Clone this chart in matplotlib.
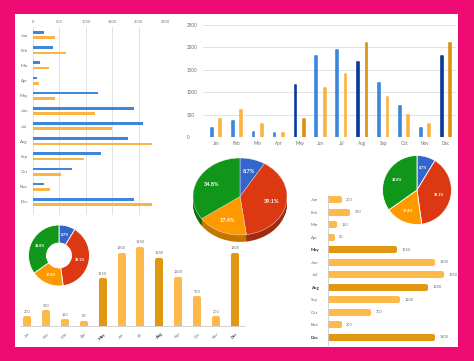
import numpy as np
import matplotlib.pyplot as plt
from matplotlib.patches import Rectangle

plt.rcParams['font.family'] = ['Lato', 'DejaVu Sans']

# data
months = ['Jan', 'Feb', 'Mar', 'Apr', 'May', 'Jun',
          'Jul', 'Aug', 'Sep', 'Oct', 'Nov', 'Dec']
highlight = ['May', 'Aug', 'Dec']
blue = [200, 350, 120, 80, 1150, 1800, 1950, 1680, 1200, 700, 200, 1800]
orange = [400, 600, 300, 100, 400, 1100, 1400, 2100, 900, 500, 300, 2100]
# the top-left chart
blue_h = [210, 370, 130, 80, 1230, 1920, 2080, 1790, 1280, 740, 210, 1920]
orange_h = [420, 630, 300, 120, 420, 1170, 1500, 2250, 960, 530, 320, 2250]
shares = [200, 900, 400, 800]

# colours
PINK = '#EE0C74'
BLUE, DBLUE = '#3C86DC', '#0C3C9A'
ORANGE, DORANGE = '#FBB443', '#DB9210'
LORANGE, DORANGE2 = '#FDBA4A', '#E09812'
PIE = ['#3366CC', '#DC3912', '#FF9900', '#109618']
PIE_DARK = ['#244A99', '#A22A0E', '#C47600', '#0B6E12']
GRID = '#DDDDDD'
TXT = '#6E6E6E'

W, H = 474, 361
fig = plt.figure(figsize=(W / 100, H / 100), dpi=100, facecolor=PINK)
fig.add_artist(Rectangle((15 / W, 1 - 347 / H), 443 / W, 333 / H,
                         transform=fig.transFigure, facecolor='white',
                         edgecolor='none', zorder=0))


def box(x0, y0, x1, y1):
    a = fig.add_axes([x0 / W, 1 - y1 / H, (x1 - x0) / W, (y1 - y0) / H])
    a.patch.set_alpha(0)
    return a


def clean(a):
    for s in a.spines.values():
        s.set_visible(False)


x = np.arange(12)
hl = [m in highlight for m in months]

# --- top left: horizontal grouped bars
ax = box(33, 27, 165, 215)
ax.barh(x - 0.175, blue_h, height=0.18, color=BLUE)
ax.barh(x + 0.175, orange_h, height=0.18, color=ORANGE)
ax.set_xlim(0, 2500)
ax.set_ylim(11.86, -0.53)
ax.set_xticks(range(0, 2501, 500))
ax.xaxis.tick_top()
ax.set_yticks(x, months)
ax.tick_params(axis='x', length=0, labelsize=2.8, colors=TXT, pad=2)
ax.tick_params(axis='y', length=0, labelsize=3.2, colors=TXT, pad=6.5)
for lbl in ax.get_yticklabels():
    lbl.set_ha('center')
ax.grid(axis='x', color=GRID, lw=0.6)
ax.set_axisbelow(True)
clean(ax)

# --- top right: vertical grouped bars
ax = box(203, 25, 456, 137)
bc = [DBLUE if h else BLUE for h in hl]
oc = [DORANGE if h else ORANGE for h in hl]
ax.bar(x - 0.2, blue, width=0.086, color=bc, edgecolor=bc, lw=1.2,
       joinstyle='round')
ax.bar(x + 0.2, orange, width=0.086, color=oc, edgecolor=oc, lw=1.2,
       joinstyle='round')
ax.set_xlim(-0.62, 11.48)
ax.set_ylim(0, 2500)
ax.set_yticks(range(0, 2501, 500))
ax.set_xticks(x, months)
ax.tick_params(axis='y', length=0, labelsize=3.3, colors=TXT, pad=11.5)
ax.tick_params(axis='x', length=0, labelsize=3.3, colors=TXT, pad=3)
for lbl in ax.get_yticklabels():
    lbl.set_ha('left')
ax.grid(axis='y', color=GRID, lw=0.6)
ax.set_axisbelow(True)
clean(ax)

# --- bottom: vertical bars with labels
ax = box(20, 231, 245, 326)
cc = [DORANGE2 if h else LORANGE for h in hl]
ax.bar(x, blue, width=0.21, color=cc, edgecolor=cc, lw=2.9,
       joinstyle='round')
for i, v in enumerate(blue):
    ax.text(i, v + 110, str(v), ha='center', va='bottom',
            fontsize=2.8, color=TXT)
ax.set_xlim(-0.37, 11.53)
ax.set_ylim(0, 2400)
ax.set_yticks([])
ax.set_xticks(x, months)
ax.tick_params(axis='x', length=0, labelsize=3, colors=TXT, pad=4.3)
for lbl, h in zip(ax.get_xticklabels(), hl):
    lbl.set_rotation(45)
    lbl.set_ha('center')
    lbl.set_va('top')
    if h:
        lbl.set_fontweight('bold')
        lbl.set_color('#333333')
clean(ax)
ax.spines['bottom'].set_visible(True)
ax.spines['bottom'].set_color('#CCCCCC')
ax.spines['bottom'].set_linewidth(0.6)

# --- bottom right: horizontal bars with labels
ax = box(328, 195, 455, 345)
ax.barh(x, blue, height=0.24, color=cc, edgecolor=cc, lw=2.9,
        joinstyle='round')
for i, v in enumerate(blue):
    ax.text(v + 110, i, str(v), ha='left', va='center',
            fontsize=2.8, color=TXT)
ax.set_xlim(0, 2171)
ax.set_ylim(11.64, -0.4)
ax.set_xticks([])
ax.set_yticks(x, months)
ax.tick_params(axis='y', length=0, labelsize=3.2, colors=TXT, pad=9.7)
for lbl, h in zip(ax.get_yticklabels(), hl):
    lbl.set_ha('center')
    if h:
        lbl.set_fontweight('bold')
        lbl.set_color('#333333')
clean(ax)
ax.spines['left'].set_visible(True)
ax.spines['left'].set_color('#CCCCCC')
ax.spines['left'].set_linewidth(0.6)

# --- 3D-looking pie
ax = box(190, 155, 290, 245)
for d in np.linspace(0.18, 0.02, 9):
    ax.pie(shares, colors=PIE_DARK, startangle=90, counterclock=False,
           center=(0, -d), wedgeprops=dict(linewidth=0))
ax.pie(shares, colors=PIE, startangle=90, counterclock=False,
       autopct='%.1f%%', pctdistance=0.68,
       wedgeprops=dict(linewidth=0.3, edgecolor='#F0F0F0'),
       textprops=dict(color='white', fontsize=4, fontweight='bold'))
ax.set_aspect('auto')
ax.set_xlim(-1.064, 1.064)
ax.set_ylim(-1.26, 1.078)

# --- right pie
ax = box(382.5, 155.5, 451.5, 224.5)
ax.pie(shares, colors=PIE, startangle=90, counterclock=False,
       autopct='%.1f%%', pctdistance=0.66,
       wedgeprops=dict(linewidth=0.6, edgecolor='white'),
       textprops=dict(color='white', fontsize=2.6, fontweight='bold'))
ax.set_xlim(-1, 1)
ax.set_ylim(-1, 1)

# --- donut
ax = box(28.5, 225, 89.5, 286)
ax.pie(shares, colors=PIE, startangle=90, counterclock=False,
       autopct='%.1f%%', pctdistance=0.71,
       wedgeprops=dict(width=0.59, linewidth=0.6, edgecolor='white'),
       textprops=dict(color='white', fontsize=2.6, fontweight='bold'))
ax.set_xlim(-1, 1)
ax.set_ylim(-1, 1)

fig.savefig('out.png', dpi=100, facecolor=PINK)
